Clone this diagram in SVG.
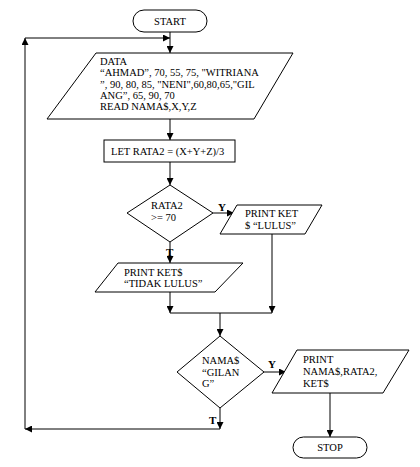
<svg xmlns="http://www.w3.org/2000/svg" width="420" height="467" viewBox="0 0 420 467">
<defs>
<marker id="ah" viewBox="0 0 8 8" refX="8" refY="4" markerWidth="7" markerHeight="7" markerUnits="userSpaceOnUse" orient="auto">
<path d="M0,0 L8,4 L0,8 z" fill="#000"/>
</marker>
</defs>
<style>
.s{fill:#fff;stroke:#000;stroke-width:1}
.t{font-family:"Liberation Serif","Times New Roman",serif;font-size:10.5px;fill:#000}
.c{text-anchor:middle}
.l{font-family:"Liberation Serif","Times New Roman",serif;font-size:11px;font-weight:bold;fill:#000}
.e{fill:none;stroke:#000;stroke-width:1}
</style>
<rect width="420" height="467" fill="#fff"/>
<g id="connectors">
<path class="e" d="M170,32 V53" marker-end="url(#ah)"/>
<path class="e" d="M25,429 V38" marker-end="url(#ah)"/>
<path class="e" d="M25,38 H170" marker-end="url(#ah)"/>
<path class="e" d="M170,119 V140" marker-end="url(#ah)"/>
<path class="e" d="M170,162 V185" marker-end="url(#ah)"/>
<path class="e" d="M213,213 H234" marker-end="url(#ah)"/>
<path class="e" d="M170,242 V263" marker-end="url(#ah)"/>
<path class="e" d="M170,292 V313" marker-end="url(#ah)"/>
<path class="e" d="M272,234 V313" marker-end="url(#ah)"/>
<path class="e" d="M170,313 H272"/>
<path class="e" d="M220,313 V336" marker-end="url(#ah)"/>
<path class="e" d="M264,372 H286" marker-end="url(#ah)"/>
<path class="e" d="M330,393 V437" marker-end="url(#ah)"/>
<path class="e" d="M220,408 V429" marker-end="url(#ah)"/>
<path class="e" d="M220,429 H25" marker-end="url(#ah)"/>
<text class="l" x="218" y="211">Y</text>
<text class="l" x="166" y="256">T</text>
<text class="l" x="268" y="368">Y</text>
<text class="l" x="209" y="424">T</text>
</g>
<g id="start">
<rect class="s" x="133" y="10" width="74" height="22" rx="11"/>
<text class="t c" x="170" y="25">START</text>
</g>
<g id="data">
<polygon class="s" points="96,53 293,53 254,119 47,119"/>
<text class="t" x="100" y="65">DATA</text>
<text class="t" x="100" y="76">“AHMAD”, 70, 55, 75, "WITRIANA</text>
<text class="t" x="100" y="88">”, 90, 80, 85, "NENI",60,80,65,"GIL</text>
<text class="t" x="100" y="99">ANG”, 65, 90, 70</text>
<text class="t" x="100" y="110">READ NAMA$,X,Y,Z</text>
</g>
<g id="let">
<rect class="s" x="104" y="140" width="131" height="22"/>
<text class="t" x="111" y="155">LET RATA2 = (X+Y+Z)/3</text>
</g>
<g id="cond1">
<polygon class="s" points="170,185 213,213 170,242 127,213"/>
<text class="t" x="151" y="209">RATA2</text>
<text class="t" x="151" y="221">&gt;= 70</text>
</g>
<g id="lulus">
<polygon class="s" points="237,205 322,205 305,234 220,234"/>
<text class="t" x="245" y="217">PRINT KET</text>
<text class="t" x="245" y="229">$ “LULUS”</text>
</g>
<g id="tidak">
<polygon class="s" points="118,263 243,263 215,292 95,292"/>
<text class="t" x="124" y="276">PRINT KET$</text>
<text class="t" x="124" y="287">“TIDAK LULUS”</text>
</g>
<g id="cond2">
<polygon class="s" points="220,336 264,372 220,408 177,372"/>
<text class="t" x="202" y="364">NAMA$</text>
<text class="t" x="202" y="376">“GILAN</text>
<text class="t" x="202" y="387">G”</text>
</g>
<g id="print">
<polygon class="s" points="297,350 409,350 383,393 272,393"/>
<text class="t" x="303" y="363">PRINT</text>
<text class="t" x="303" y="375">NAMA$,RATA2,</text>
<text class="t" x="303" y="387">KET$</text>
</g>
<g id="stop">
<rect class="s" x="293" y="437" width="74" height="21" rx="10.5"/>
<text class="t c" x="330" y="451">STOP</text>
</g>
</svg>
